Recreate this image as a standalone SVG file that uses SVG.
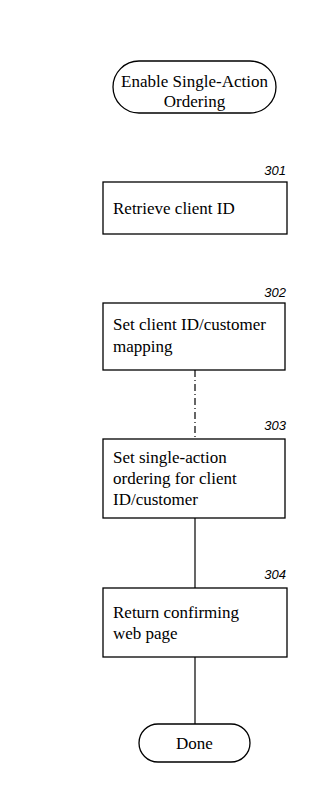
<svg xmlns="http://www.w3.org/2000/svg" width="320" height="800" viewBox="0 0 320 800">
<style>
.shape{fill:#fff;stroke:#000;stroke-width:1.3}
.t{font-family:"Liberation Serif","Times New Roman",serif;font-size:17px;fill:#000}
.n{font-family:"Liberation Sans",Arial,sans-serif;font-size:13px;font-style:italic;fill:#000;text-anchor:end}
.c{stroke:#000;stroke-width:1.2;fill:none}
</style>
<rect width="320" height="800" fill="#fff"/>
<g id="connectors">
<line class="c" x1="195" y1="370" x2="195" y2="439" stroke-dasharray="7 3 1 3" stroke="#444"/>
<line class="c" x1="195" y1="518" x2="195" y2="588"/>
<line class="c" x1="195" y1="657" x2="195" y2="724"/>
</g>
<g id="start">
<rect class="shape" x="113" y="61" width="163" height="52" rx="26"/>
<text class="t" x="194.5" y="87" text-anchor="middle">Enable Single-Action</text>
<text class="t" x="194.5" y="107" text-anchor="middle">Ordering</text>
</g>
<g id="n301">
<text class="n" x="286" y="175">301</text>
<rect class="shape" x="103" y="182" width="184" height="52"/>
<text class="t" x="113" y="214">Retrieve client ID</text>
</g>
<g id="n302">
<text class="n" x="286" y="297">302</text>
<rect class="shape" x="103" y="303" width="182" height="67"/>
<text class="t" x="113" y="330">Set client ID/customer</text>
<text class="t" x="113" y="352">mapping</text>
</g>
<g id="n303">
<text class="n" x="286" y="430">303</text>
<rect class="shape" x="103" y="439" width="182" height="79"/>
<text class="t" x="113" y="463">Set single-action</text>
<text class="t" x="113" y="484">ordering for client</text>
<text class="t" x="113" y="505">ID/customer</text>
</g>
<g id="n304">
<text class="n" x="286" y="579">304</text>
<rect class="shape" x="103" y="588" width="184" height="69"/>
<text class="t" x="113" y="618">Return confirming</text>
<text class="t" x="113" y="639">web page</text>
</g>
<g id="done">
<rect class="shape" x="139" y="724" width="111" height="38" rx="19"/>
<text class="t" x="194.5" y="749" text-anchor="middle">Done</text>
</g>
</svg>
